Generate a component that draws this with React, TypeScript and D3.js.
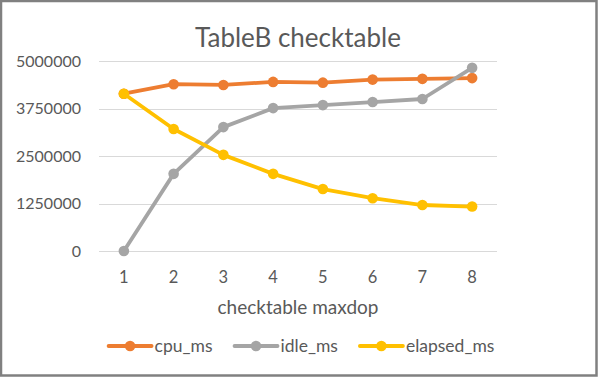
import React, { useEffect, useRef } from "react";
import * as d3 from "d3";

const categories = ["1", "2", "3", "4", "5", "6", "7", "8"];
const cpuMs = [4140000, 4390000, 4370000, 4450000, 4430000, 4510000, 4530000, 4550000];
const idleMs = [0, 2030000, 3260000, 3760000, 3840000, 3920000, 4000000, 4820000];
const elapsedMs = [4140000, 3210000, 2530000, 2030000, 1630000, 1390000, 1210000, 1170000];
const yTicks = [0, 1250000, 2500000, 3750000, 5000000];
const seriesNames = ["cpu_ms", "idle_ms", "elapsed_ms"];
const seriesColors = ["#ED7D31", "#A5A5A5", "#FFC000"];
const titleText = "TableB checktable";
const xTitleText = "checktable maxdop";

const W = 598;
const H = 377;
const FONT = "Lato, 'Open Sans', sans-serif";
const TEXT = "#595959";

export default function App() {
  const ref = useRef<SVGSVGElement>(null);
  useEffect(() => {
    const svg = d3.select(ref.current);
    svg.selectAll("*").remove();

    svg.append("rect").attr("x", 0).attr("y", 0).attr("width", W).attr("height", H).attr("fill", "#fff");
    svg.append("rect").attr("x", 1).attr("y", 1).attr("width", W - 2.5).attr("height", H - 2.5)
      .attr("fill", "none").attr("stroke", "#808080").attr("stroke-width", 2.5);

    const left = 99, right = 497, top = 61, bottom = 251;
    const x = d3.scalePoint<string>().domain(categories).range([left, right]).padding(0.5);
    const y = d3.scaleLinear().domain([0, 5000000]).range([bottom, top]);

    // title
    svg.append("text").attr("x", 298).attr("y", 47).attr("text-anchor", "middle")
      .attr("font-family", FONT).attr("font-size", 26).attr("fill", TEXT).text(titleText);

    // grid
    svg.append("g").selectAll("line").data(yTicks).join("line")
      .attr("x1", left).attr("x2", right)
      .attr("y1", d => Math.round(y(d)) + 0.5).attr("y2", d => Math.round(y(d)) + 0.5)
      .attr("stroke", "#D9D9D9").attr("stroke-width", 1);

    svg.append("g").selectAll("text").data(yTicks).join("text")
      .attr("x", 81).attr("y", d => y(d)).attr("dy", "0.36em").attr("text-anchor", "end")
      .attr("font-family", FONT).attr("font-size", 16).attr("fill", TEXT)
      .text(d => String(d));

    svg.append("g").selectAll("text").data(categories).join("text")
      .attr("x", d => x(d)!).attr("y", 277).attr("dy", "0.36em").attr("text-anchor", "middle")
      .attr("font-family", FONT).attr("font-size", 16.5).attr("fill", TEXT)
      .text(d => d);

    svg.append("text").attr("x", (left + right) / 2).attr("y", 307).attr("dy", "0.36em")
      .attr("text-anchor", "middle").attr("font-family", FONT).attr("font-size", 19)
      .attr("fill", TEXT).text(xTitleText);

    const all = [cpuMs, idleMs, elapsedMs];
    const line = d3.line<number>().x((_, i) => x(categories[i])!).y(d => y(d));
    all.forEach((vals, si) => {
      const g = svg.append("g");
      g.append("path").attr("d", line(vals)!).attr("fill", "none")
        .attr("stroke", seriesColors[si]).attr("stroke-width", 3.8)
        .attr("stroke-linejoin", "round").attr("stroke-linecap", "round");
      g.selectAll("circle").data(vals).join("circle")
        .attr("cx", (_, i) => x(categories[i])!).attr("cy", d => y(d))
        .attr("r", 5.3).attr("fill", seriesColors[si]);
    });

    // legend
    const lg = svg.append("g");
    const lineLen = 43, gapText = 3, gapItem = 22;
    const items = seriesNames.map((name, i) => {
      const g = lg.append("g");
      g.append("line").attr("x1", 0).attr("x2", lineLen).attr("y1", 0).attr("y2", 0)
        .attr("stroke", seriesColors[i]).attr("stroke-width", 3.8).attr("stroke-linecap", "round");
      g.append("circle").attr("cx", lineLen / 2).attr("cy", 0).attr("r", 5.3).attr("fill", seriesColors[i]);
      const t = g.append("text").attr("x", lineLen + gapText).attr("y", 0).attr("dy", "0.36em")
        .attr("font-family", FONT).attr("font-size", 17.5).attr("fill", TEXT).text(name);
      const w = (t.node() as SVGTextElement).getComputedTextLength();
      return { g, w: lineLen + gapText + w };
    });
    const total = d3.sum(items, d => d.w) + gapItem * (items.length - 1);
    let cx = 301.5 - total / 2;
    items.forEach(it => {
      it.g.attr("transform", `translate(${cx},346)`);
      cx += it.w + gapItem;
    });
  }, []);

  return (
    <svg ref={ref} width={W} height={H}
      style={{ position: "absolute", left: 0, top: 0, display: "block" }} />
  );
}
